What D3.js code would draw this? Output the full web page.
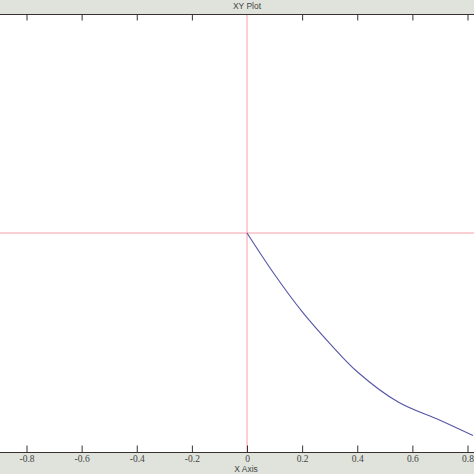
<!DOCTYPE html>
<html><head><meta charset="utf-8">
<script src="https://cdn.jsdelivr.net/npm/d3@7"></script>
<style>html,body{margin:0;padding:0;background:#fff;overflow:hidden}</style>
</head><body>
<svg id="c" width="474" height="474"></svg>
<script>
const xTicks = [-0.8, -0.6, -0.4, -0.2, 0, 0.2, 0.4, 0.6, 0.8];
const xTickLabels = ["-0.8", "-0.6", "-0.4", "-0.2", "0", "0.2", "0.4", "0.6", "0.8"];
const curveX = [0, 0.1, 0.2, 0.3, 0.4, 0.55, 0.7, 0.82];
const curveY = [0, -0.19, -0.36, -0.505, -0.635, -0.775, -0.857, -0.927];
const title = "XY Plot";
const xLabel = "X Axis";

(function(){
const W = 474, H = 474;
const plotTop = 14.5, plotBottom = 452.5;
const svg = d3.select("#c");
const x = d3.scaleLinear().domain([-0.8, 0.8]).range([26.5, 467.5]);
const y = d3.scaleLinear().domain([-1, 1]).range([451.5, 14.5]);

svg.append("rect").attr("x",0).attr("y",0).attr("width",W).attr("height",plotTop).attr("fill","#dfe3dc");
svg.append("rect").attr("x",0).attr("y",plotBottom).attr("width",W).attr("height",H-plotBottom).attr("fill","#dfe3dc");

svg.append("line").attr("x1",x(0)).attr("x2",x(0)).attr("y1",plotTop).attr("y2",plotBottom)
  .attr("stroke","#f4a0aa").attr("stroke-width",1);
svg.append("line").attr("x1",0).attr("x2",W).attr("y1",y(0)).attr("y2",y(0))
  .attr("stroke","#f4a0aa").attr("stroke-width",1);

const topAxis = d3.axisTop(x).tickValues(xTicks.filter(d=>d!==0)).tickSize(-6).tickFormat("");
const gt = svg.append("g").attr("transform",`translate(0,${plotTop})`).call(topAxis);
gt.select(".domain").remove();
gt.selectAll(".tick line").attr("stroke","#333");
svg.append("line").attr("x1",0).attr("x2",W).attr("y1",plotTop).attr("y2",plotTop).attr("stroke","#3a3030").attr("stroke-width",1.2);

const botAxis = d3.axisBottom(x).tickValues(xTicks).tickSize(-7).tickPadding(4)
  .tickFormat((d,i)=>xTickLabels[i]);
const gb = svg.append("g").attr("transform",`translate(0,${plotBottom})`).call(botAxis);
gb.select(".domain").remove();
gb.selectAll(".tick line").attr("stroke","#333");
gb.selectAll(".tick text").attr("y",3).attr("font-family","Liberation Serif").attr("font-size",9.5).attr("fill","#444").attr("dy","0.71em");
svg.append("line").attr("x1",0).attr("x2",W).attr("y1",plotBottom).attr("y2",plotBottom).attr("stroke","#3a3030").attr("stroke-width",1.2);

svg.append("text").attr("x",247).attr("y",9).attr("text-anchor","middle")
  .attr("font-family","Liberation Sans").attr("font-size",8.5).attr("fill","#444").text(title);
svg.append("text").attr("x",246).attr("y",472).attr("text-anchor","middle")
  .attr("font-family","Liberation Sans").attr("font-size",8.5).attr("fill","#444").text(xLabel);

const pts = curveX.map((d,i)=>[d, curveY[i]]);
svg.append("path").datum(pts).attr("fill","none").attr("stroke","#5555a8").attr("stroke-width",1.1)
  .attr("d", d3.line().x(d=>x(d[0])).y(d=>y(d[1])).curve(d3.curveCatmullRom));
})();
</script>
</body></html>
